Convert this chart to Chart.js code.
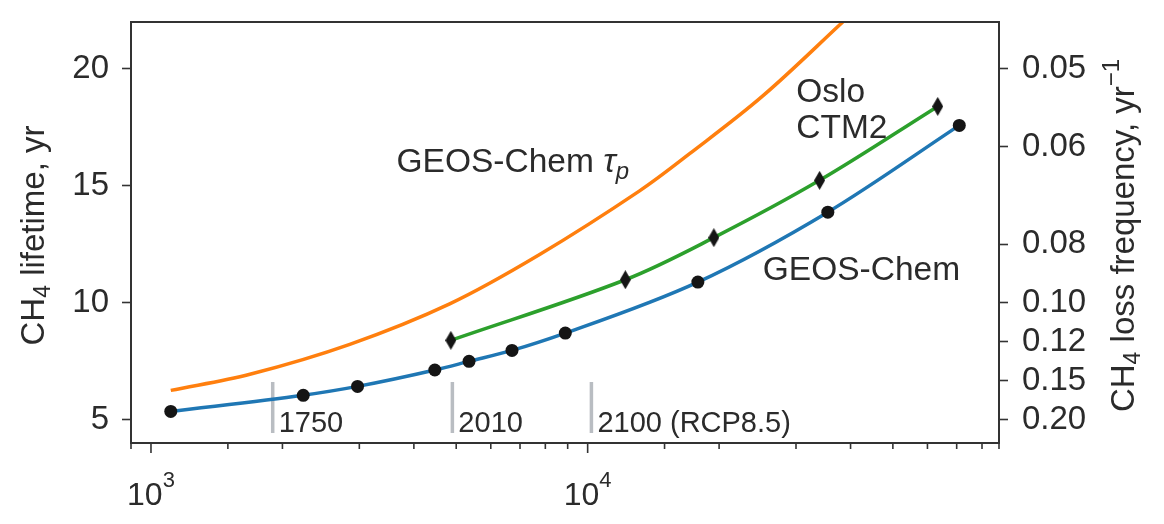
<!DOCTYPE html>
<html><head><meta charset="utf-8">
<script src="https://cdn.jsdelivr.net/npm/chart.js@4.4.1/dist/chart.umd.min.js"></script>
<style>html,body{margin:0;padding:0;background:#fff}canvas{display:block}</style>
</head><body>
<canvas id="c" width="1164" height="524"></canvas>
<script>
// ---- axis ranges / ticks ----
const xMin = 900, xMax = 87500;
const yMin = 4, yMax = 22;
const lifetimeTicks = [5, 10, 15, 20];
const freqTicks = [0.05, 0.06, 0.08, 0.10, 0.12, 0.15, 0.20];

// ---- series (x: emission-like quantity, y: CH4 lifetime in yr) ----
const geosX = [1110, 2232, 2972, 4467, 5350, 6710, 8890, 17880, 35480, 70970];
const geosY = [5.35, 6.04, 6.42, 7.12, 7.49, 7.96, 8.70, 10.88, 13.87, 17.58];
const osloX = [4860, 12200, 19450, 33970, 63330];
const osloY = [8.39, 10.98, 12.78, 15.23, 18.39];
const tauX = [1110, 1685, 2853, 4831, 7763, 13150, 17120, 25180, 38390, 40000];
const tauY = [6.25, 6.94, 8.22, 9.95, 12.06, 14.78, 16.37, 18.84, 22.0, 22.32];

// ---- reference-year markers ----
const markerYears = ['1750', '2010', '2100 (RCP8.5)'];
const markerX = [1900, 4900, 10200];

const FONT = '"Liberation Sans", Arial, Helvetica, sans-serif';
const TXT = '#2b2b2b';

function thinDiamond(w, h) {
  const c = document.createElement('canvas'); c.width = w; c.height = h;
  const g = c.getContext('2d'); g.fillStyle = '#151515';
  g.beginPath(); g.moveTo(w/2, 0); g.lineTo(w, h/2); g.lineTo(w/2, h); g.lineTo(0, h/2); g.closePath(); g.fill();
  return c;
}

function drawRich(ctx, segs, x, y, align) {
  let w = 0;
  segs.forEach(s => { ctx.font = `${s.style || ''} ${s.size}px ${FONT}`; s.w = ctx.measureText(s.t).width; w += s.w; });
  let cx = align === 'center' ? x - w / 2 : (align === 'right' ? x - w : x);
  ctx.textAlign = 'left'; ctx.textBaseline = 'alphabetic';
  segs.forEach(s => { ctx.font = `${s.style || ''} ${s.size}px ${FONT}`; ctx.fillText(s.t, cx, y + (s.dy || 0)); cx += s.w; });
}

const decor = {
  id: 'decor',
  beforeDatasetsDraw(chart) {
    const ctx = chart.ctx, xs = chart.scales.x, a = chart.chartArea;
    ctx.save();
    ctx.strokeStyle = '#b9bdc2'; ctx.lineWidth = 3.5;
    markerX.forEach((v, i) => {
      const px = xs.getPixelForValue(v);
      ctx.beginPath(); ctx.moveTo(px, a.bottom - 10); ctx.lineTo(px, a.bottom - 61); ctx.stroke();
      ctx.fillStyle = TXT;
      drawRich(ctx, [{t: markerYears[i], size: 29}], px + 6, a.bottom - 11, 'left');
    });
    ctx.restore();
  },
  afterDatasetsDraw(chart) {
    const ctx = chart.ctx, xs = chart.scales.x, ys = chart.scales.y;
    ctx.save(); ctx.fillStyle = TXT;
    drawRich(ctx, [{t: 'GEOS-Chem ', size: 33.5}, {t: 'τ', size: 33.5, style: 'italic'}, {t: 'p', size: 24, style: 'italic', dy: 7}],
      xs.getPixelForValue(3650), ys.getPixelForValue(15.58), 'left');
    const ox = xs.getPixelForValue(30040), oy = ys.getPixelForValue(18.57);
    drawRich(ctx, [{t: 'Oslo', size: 33.5}], ox, oy, 'left');
    drawRich(ctx, [{t: 'CTM2', size: 33.5}], ox, oy + 36, 'left');
    drawRich(ctx, [{t: 'GEOS-Chem', size: 33.5}], xs.getPixelForValue(25180), ys.getPixelForValue(10.98), 'left');
    ctx.restore();
  },
  afterDraw(chart) {
    const ctx = chart.ctx, xs = chart.scales.x, a = chart.chartArea;
    ctx.save();
    ctx.strokeStyle = '#333'; ctx.lineWidth = 1.6;
    xs.ticks.forEach(t => {
      const v = t.value;
      if (v < xMin || v > xMax) return;
      const e = Math.log10(v);
      const major = Math.abs(e - Math.round(e)) < 1e-9;
      const px = xs.getPixelForValue(v);
      ctx.beginPath(); ctx.moveTo(px, a.bottom); ctx.lineTo(px, a.bottom + (major ? 10 : 6)); ctx.stroke();
      if (major) {
        ctx.fillStyle = TXT;
        drawRich(ctx, [{t: '10', size: 32}, {t: String(Math.round(e)), size: 22, dy: -18}], px, a.bottom + 62, 'center');
      }
    });
    ctx.strokeStyle = '#333'; ctx.lineWidth = 2;
    ctx.strokeRect(a.left, a.top, a.right - a.left, a.bottom - a.top);
    ctx.fillStyle = TXT;
    const cy = (a.top + a.bottom) / 2 + 3;
    ctx.save(); ctx.translate(44, cy); ctx.rotate(-Math.PI / 2);
    drawRich(ctx, [{t: 'CH', size: 33}, {t: '4', size: 23, dy: 6}, {t: ' lifetime, yr', size: 33}], 0, 0, 'center');
    ctx.restore();
    ctx.save(); ctx.translate(1134, cy); ctx.rotate(-Math.PI / 2);
    drawRich(ctx, [{t: 'CH', size: 33}, {t: '4', size: 23, dy: 6}, {t: ' loss frequency, yr', size: 33}, {t: '−1', size: 24, dy: -15}], 0, 0, 'center');
    ctx.restore();
    ctx.restore();
  }
};

const pts = (xs, ys) => xs.map((x, i) => ({x, y: ys[i]}));

new Chart(document.getElementById('c'), {
  type: 'line',
  data: {
    datasets: [
      {label: 'GEOS-Chem τp', data: pts(tauX, tauY), borderColor: '#ff7f0e', borderWidth: 3.5,
       pointRadius: 0, tension: 0.35, fill: false},
      {label: 'Oslo CTM2', data: pts(osloX, osloY), borderColor: '#2ca02c', borderWidth: 3.5,
       pointStyle: thinDiamond(11, 19), pointRadius: 9, tension: 0.35, fill: false},
      {label: 'GEOS-Chem', data: pts(geosX, geosY), borderColor: '#1f77b4', borderWidth: 3.5,
       pointRadius: 6.5, pointBackgroundColor: '#151515', pointBorderWidth: 0, pointBorderColor: '#151515',
       cubicInterpolationMode: 'monotone', fill: false}
    ]
  },
  options: {
    responsive: false, animation: false, events: [],
    layout: {padding: {top: 22, left: 0, right: 0, bottom: 0}},
    plugins: {legend: {display: false}, tooltip: {enabled: false}},
    scales: {
      x: {type: 'logarithmic', position: 'bottom', min: xMin, max: xMax,
          ticks: {display: false}, grid: {display: false}, border: {display: false},
          afterFit: s => { s.height = 81; s.paddingLeft = 0; s.paddingRight = 0; }},
      y: {type: 'linear', position: 'left', min: yMin, max: yMax,
          afterBuildTicks: s => { s.ticks = lifetimeTicks.map(v => ({value: v})); },
          ticks: {font: {family: FONT, size: 33}, color: TXT, padding: 13},
          grid: {display: true, drawOnChartArea: false, drawTicks: true, tickLength: 9, tickWidth: 1.6, tickColor: '#333'},
          border: {display: false},
          afterFit: s => { s.width = 131; s.paddingTop = 0; s.paddingBottom = 0; }},
      y2: {type: 'linear', position: 'right', min: yMin, max: yMax,
          afterBuildTicks: s => { s.ticks = freqTicks.map(f => ({value: 1 / f})); },
          ticks: {font: {family: FONT, size: 33}, color: TXT, padding: 14,
                  callback: v => (1 / v).toFixed(2)},
          grid: {display: true, drawOnChartArea: false, drawTicks: true, tickLength: 9, tickWidth: 1.6, tickColor: '#333'},
          border: {display: false},
          afterFit: s => { s.width = 165; s.paddingTop = 0; s.paddingBottom = 0; }}
    }
  },
  plugins: [decor]
});
</script>
</body></html>
